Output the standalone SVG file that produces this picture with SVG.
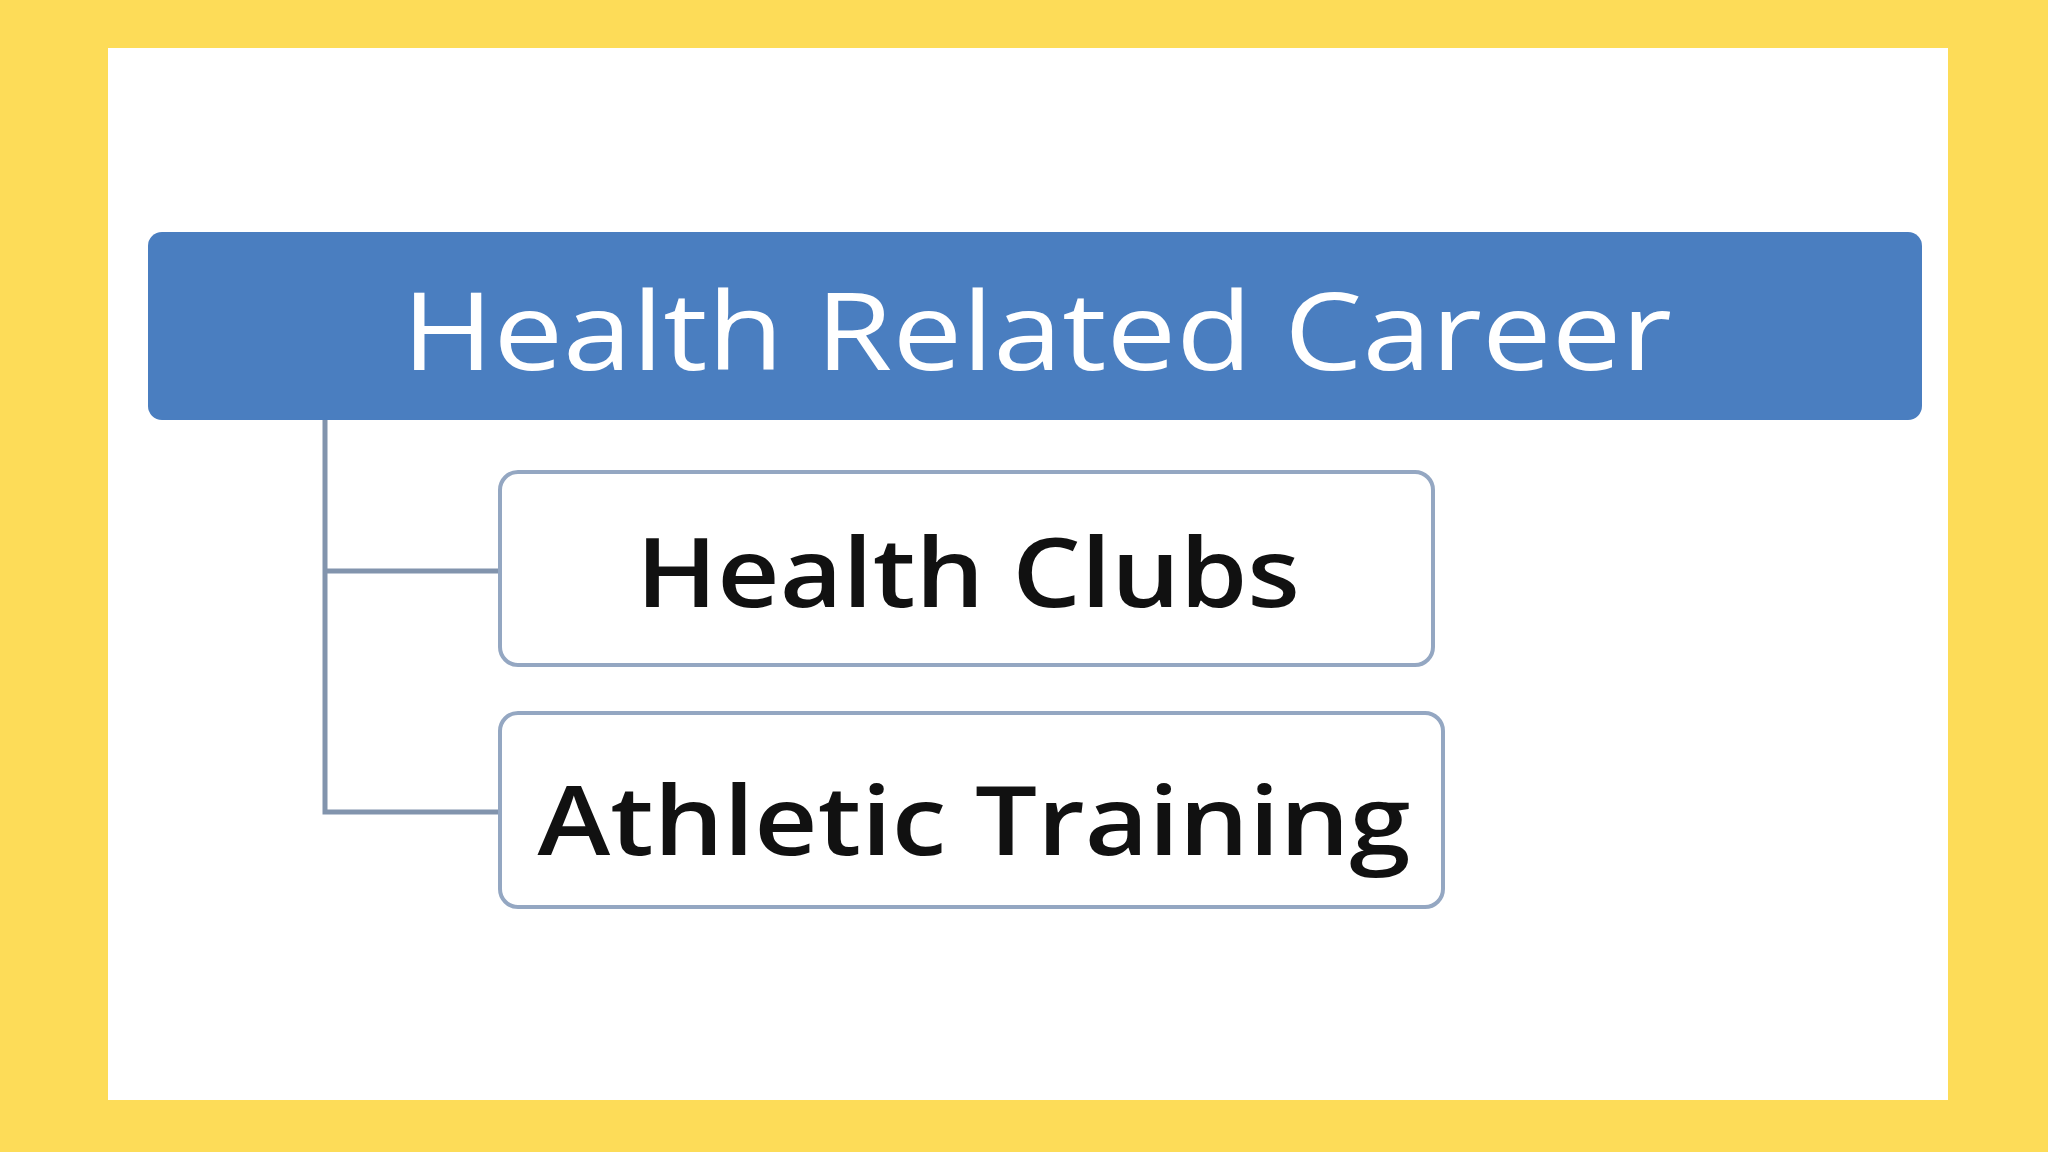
<svg xmlns="http://www.w3.org/2000/svg" width="2048" height="1152" viewBox="0 0 2048 1152">
<style>
.child rect{fill:#ffffff;stroke:#94a7c2;stroke-width:4}
.child text{font-family:"Open Sans","Liberation Sans",sans-serif;font-size:96px;font-weight:600;fill:#111111;text-anchor:middle}
.conn{fill:none;stroke:#8294ad;stroke-width:5}
</style>
<rect x="0" y="0" width="2048" height="1152" fill="#fddc58"/>
<rect x="108" y="48" width="1840" height="1052" fill="#ffffff"/>
<g id="connectors">
<path class="conn" d="M325 420 V812 H500"/>
<path class="conn" d="M325 571 H500"/>
</g>
<g id="root">
<rect x="148" y="232" width="1774" height="188" rx="14" fill="#4a7ec0"/>
<text x="1037" y="370" font-family="Open Sans, Liberation Sans, sans-serif" font-size="108" fill="#ffffff" text-anchor="middle" textLength="1270" lengthAdjust="spacingAndGlyphs">Health Related Career</text>
</g>
<g id="health-clubs" class="child">
<rect x="500" y="472" width="933" height="193" rx="18"/>
<text x="968" y="607" textLength="664" lengthAdjust="spacingAndGlyphs">Health Clubs</text>
</g>
<g id="athletic-training" class="child">
<rect x="500" y="713" width="943" height="194" rx="18"/>
<text x="974" y="855" textLength="873" lengthAdjust="spacingAndGlyphs">Athletic Training</text>
</g>
</svg>
